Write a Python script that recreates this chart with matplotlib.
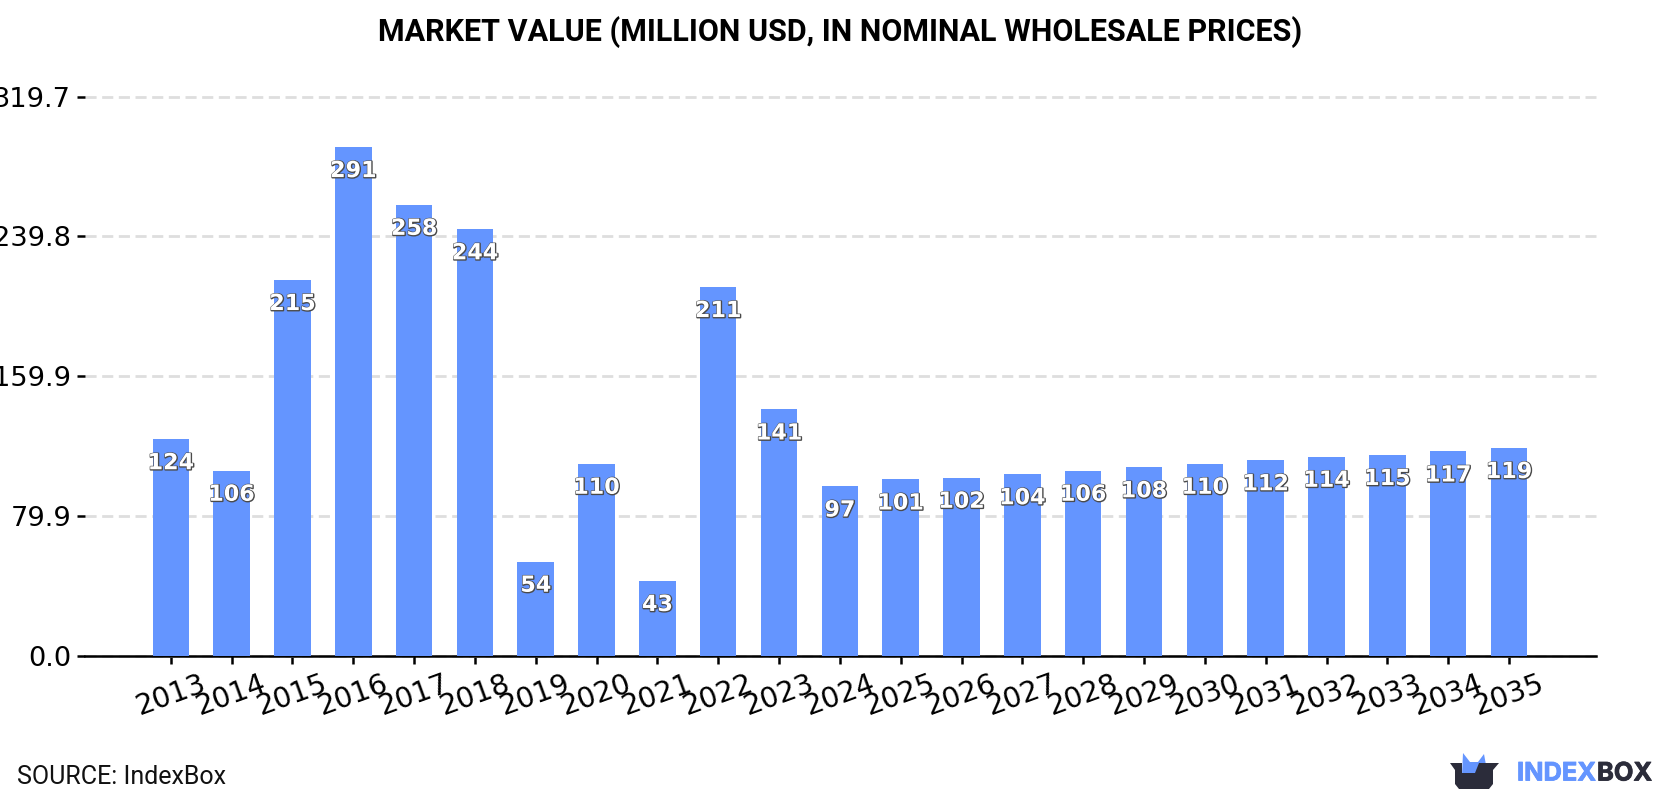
import matplotlib
matplotlib.use("Agg")
import matplotlib.pyplot as plt
import matplotlib.patheffects as pe
from matplotlib.patches import Polygon

BAR_COLOR = "#6495ff"
DARK = "#2b2c3a"

years = [2013, 2014, 2015, 2016, 2017, 2018, 2019, 2020, 2021, 2022, 2023, 2024,
         2025, 2026, 2027, 2028, 2029, 2030, 2031, 2032, 2033, 2034, 2035]
values = [124, 106, 215, 291, 258, 244, 54, 110, 43, 211, 141, 97,
          101, 102, 104, 106, 108, 110, 112, 114, 115, 117, 119]
y_ticks = [0.0, 79.9, 159.9, 239.8, 319.7]

W, H = 1680, 800
fig = plt.figure(figsize=(W / 100, H / 100), dpi=100)
ax = fig.add_axes([85 / W, 1 - 656 / H, (1596 - 85) / W, (656 - 96.7) / H])

x = list(range(len(years)))
ax.bar(x, values, width=0.6, color=BAR_COLOR, zorder=3)

ax.set_xlim(-1.41, 23.43)
ax.set_ylim(0, 319.7)
ax.set_xticks(x)
ax.set_xticklabels(years, rotation=20, fontsize=20.5, family="DejaVu Sans")
ax.set_yticks(y_ticks)
ax.set_yticklabels([f"{t:.1f}" for t in y_ticks], fontsize=19.6, family="DejaVu Sans")
ax.tick_params(axis="both", length=5.8, width=1.8, color="black", pad=4)
ax.grid(axis="y", color="#dedede", linestyle=(0, (4, 2)), linewidth=2, zorder=0)
ax.set_axisbelow(True)
for g in ax.get_ygridlines():
    g.set_clip_on(False)

for side in ["top", "right", "left"]:
    ax.spines[side].set_visible(False)
ax.spines["bottom"].set_linewidth(1.8)

# value labels sit just under the top of each bar
for i, v in zip(x, values):
    ax.annotate(str(v), (i, v), xytext=(0, -17.4), textcoords="offset points",
                ha="center", va="center", fontsize=16, fontweight="bold",
                family="DejaVu Sans", color="white", zorder=5,
                path_effects=[pe.withStroke(linewidth=1.4, foreground="#4a4a4a", offset=(0.3, -0.3))])

# overlay in pixel units for title, source and logo
ov = fig.add_axes([0, 0, 1, 1], zorder=10)
ov.set_xlim(0, W)
ov.set_ylim(H, 0)
ov.axis("off")

ov.text(840, 32, "MARKET VALUE (MILLION USD, IN NOMINAL WHOLESALE PRICES)", ha="center",
        va="center", fontsize=22, fontweight="bold", family="Roboto", color="black")
ov.text(17, 776.5, "SOURCE: IndexBox", ha="left", va="center", fontsize=18,
        family="Roboto", color="#111111")

# logo: blue shape poking out of a dark box
ov.add_patch(Polygon([(1462, 775), (1463, 753), (1470, 762), (1478, 762), (1484, 754),
                      (1486, 765), (1480, 775)], closed=True, color=BAR_COLOR, lw=0))
ov.add_patch(Polygon([(1450, 763), (1462, 763), (1462, 773), (1475, 773), (1479, 763),
                      (1499, 763), (1493, 770), (1493, 784), (1489, 789), (1459, 789),
                      (1455, 784), (1455, 770)], closed=True, color=DARK, lw=0))
logo_heavy = [pe.withStroke(linewidth=0.6, foreground=BAR_COLOR)]
ov.text(1517, 774, "INDEX", ha="left", va="center", fontsize=18.3, fontweight="bold",
        family="Inter", color=BAR_COLOR, path_effects=logo_heavy)
ov.text(1597, 774, "BOX", ha="left", va="center", fontsize=18.3, fontweight="bold",
        family="Inter", color=DARK, path_effects=[pe.withStroke(linewidth=0.6, foreground=DARK)])

fig.savefig("out.png", dpi=100)
